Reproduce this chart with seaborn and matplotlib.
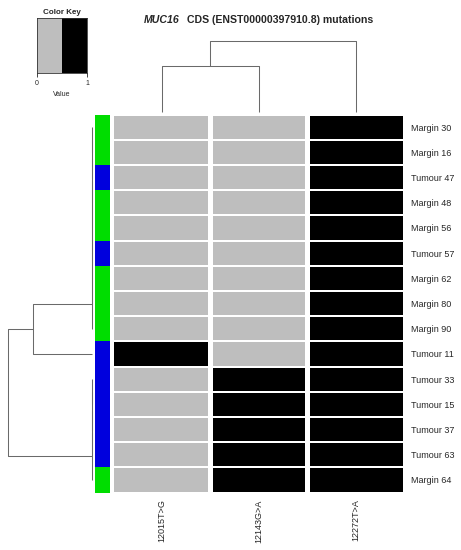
import numpy as np
import pandas as pd
import seaborn as sns
import matplotlib
matplotlib.use('Agg')
import matplotlib.pyplot as plt
from matplotlib.colors import ListedColormap

# data (0 = no mutation, 1 = mutation)
row_labels = ['Margin 30', 'Margin 16', 'Tumour 47', 'Margin 48', 'Margin 56',
              'Tumour 57', 'Margin 62', 'Margin 80', 'Margin 90', 'Tumour 11',
              'Tumour 33', 'Tumour 15', 'Tumour 37', 'Tumour 63', 'Margin 64']
col_labels = ['12015T>G', '12143G>A', '12272T>A']
mut_12015 = [0, 0, 0, 0, 0, 0, 0, 0, 0, 1, 0, 0, 0, 0, 0]
mut_12143 = [0, 0, 0, 0, 0, 0, 0, 0, 0, 0, 1, 1, 1, 1, 1]
mut_12272 = [1, 1, 1, 1, 1, 1, 1, 1, 1, 1, 1, 1, 1, 1, 1]
sample_types = ['Margin', 'Tumour']

sns.set_style('white')
plt.rcParams['font.family'] = ['Liberation Sans', 'DejaVu Sans']

df = pd.DataFrame({'12015T>G': mut_12015, '12143G>A': mut_12143,
                   '12272T>A': mut_12272}, index=row_labels)[col_labels]
side = pd.DataFrame({'type': [sample_types.index(r.split()[0]) for r in row_labels]},
                    index=row_labels)


def chain(leaves):
    # R hclust style chain of merges (identical rows joined one after another)
    node = leaves[0]
    for lf in leaves[1:]:
        node = (node, lf)
    return node


def leaves_of(node):
    if isinstance(node, tuple):
        return leaves_of(node[0]) + leaves_of(node[1])
    return [node]


def complete_dist(mat, a, b):
    return max(np.linalg.norm(mat[i] - mat[j]) for i in a for j in b)


def draw_tree(ax, node, mat, horiz, **kw):
    # returns (position, height); draws R plot.dendrogram style elbows
    if not isinstance(node, tuple):
        return node + 0.5, 0.0
    pl, hl = draw_tree(ax, node[0], mat, horiz, **kw)
    pr, hr = draw_tree(ax, node[1], mat, horiz, **kw)
    h = complete_dist(mat, leaves_of(node[0]), leaves_of(node[1]))
    ps = [pl, pl, pr, pr]
    hs = [hl, h, h, hr]
    if horiz:
        ax.plot(hs, ps, **kw)
    else:
        ax.plot(ps, hs, **kw)
    return (pl + pr) / 2, h


row_tree = ((chain(list(range(9))), 9), chain(list(range(10, 15))))
col_tree = ((0, 1), 2)

W, H = 461, 550
fig = plt.figure(figsize=(W / 100, H / 100), dpi=100)


def px_axes(x0, y0, x1, y1):
    return fig.add_axes([x0 / W, 1 - y1 / H, (x1 - x0) / W, (y1 - y0) / H])


hm_x0, hm_x1, hm_y0, hm_y1 = 113, 404, 114.5, 492.5

# main heatmap
ax = px_axes(hm_x0, hm_y0, hm_x1, hm_y1)
sns.heatmap(df, ax=ax, cmap=ListedColormap(['#bebebe', '#000000']), vmin=0, vmax=1,
            cbar=False, linewidths=1.3, linecolor='white',
            xticklabels=True, yticklabels=True)
for xc in range(1, len(col_labels)):
    ax.axvline(xc, color='white', lw=3.6)
ax.yaxis.tick_right()
ax.set_yticklabels(row_labels, rotation=0)
ax.set_xticklabels(col_labels, rotation=90)
ax.tick_params(axis='y', length=0, pad=5, labelsize=6.5)
ax.tick_params(axis='x', length=0, pad=5, labelsize=6.5)
ax.set_xlabel('')
ax.set_ylabel('')

# side colour bar (Margin / Tumour)
ax_side = px_axes(95.3, hm_y0, 110, hm_y1)
sns.heatmap(side, ax=ax_side, cmap=ListedColormap(['#00dd00', '#0000dd']),
            vmin=0, vmax=1, cbar=False, xticklabels=False, yticklabels=False)
ax_side.set_xlabel('')
ax_side.set_ylabel('')

line_kw = dict(color='#6a6a6a', lw=0.75, solid_capstyle='butt')

# row dendrogram
mat_rows = df.values.astype(float)
ax_rd = px_axes(8, hm_y0, 92, hm_y1)
draw_tree(ax_rd, row_tree, mat_rows, True, **line_kw)
ax_rd.set_ylim(len(row_labels), 0)
ax_rd.set_xlim(np.sqrt(2), 0)
ax_rd.axis('off')
for l in ax_rd.lines:
    l.set_clip_on(False)

# column dendrogram
mat_cols = df.values.T.astype(float)
ax_cd = px_axes(hm_x0, 41, hm_x1, 112)
draw_tree(ax_cd, col_tree, mat_cols, False, **line_kw)
ax_cd.set_xlim(0, len(col_labels))
ax_cd.set_ylim(0, np.sqrt(14))
ax_cd.axis('off')
for l in ax_cd.lines:
    l.set_clip_on(False)

# colour key
ax_key = px_axes(37, 18, 87, 73)
ax_key.pcolormesh([0, 0.5, 1], [0, 1], [[0, 1]],
                  cmap=ListedColormap(['#bebebe', '#000000']), vmin=0, vmax=1)
ax_key.set_xlim(0, 1)
ax_key.set_ylim(0, 1)
ax_key.set_yticks([])
ax_key.set_xticks([0, 1])
ax_key.set_xticklabels(['0', '1'])
ax_key.tick_params(axis='x', length=3, width=0.6, pad=2, labelsize=5, bottom=True)
for s in ax_key.spines.values():
    s.set_linewidth(0.6)
    s.set_color('#333333')
ax_key.set_xlabel('Value', fontsize=5, labelpad=3)
ax_key.set_title('Color Key', fontsize=5.8, fontweight='bold', pad=3)

# title: italic gene name followed by the rest
fig.text(180 / W, 1 - 20 / H, 'MUC16', fontsize=7.6, fontweight='bold',
         fontstyle='italic', ha='right', va='center')
fig.text(187 / W, 1 - 20 / H, 'CDS (ENST00000397910.8) mutations', fontsize=7.6,
         fontweight='bold', ha='left', va='center')

fig.savefig('out.png', dpi=100)
